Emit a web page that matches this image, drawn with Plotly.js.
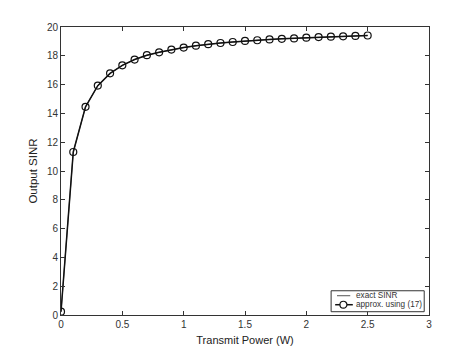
<!DOCTYPE html>
<html>
<head>
<meta charset="utf-8">
<script src="https://cdn.plot.ly/plotly-3.0.1.min.js"></script>
<style>html,body{margin:0;padding:0;background:#fff;}</style>
</head>
<body>
<div id="chart" style="width:474px;height:355px;"></div>
<script>
const power = [0, 0.1, 0.2, 0.3, 0.4, 0.5, 0.6, 0.7, 0.8, 0.9, 1.0, 1.1, 1.2, 1.3, 1.4, 1.5, 1.6, 1.7, 1.8, 1.9, 2.0, 2.1, 2.2, 2.3, 2.4, 2.5];
const exactSINR = [0.23, 11.32, 14.46, 15.93, 16.78, 17.34, 17.74, 18.04, 18.24, 18.43, 18.57, 18.70, 18.81, 18.89, 18.96, 19.03, 19.08, 19.14, 19.18, 19.21, 19.26, 19.30, 19.33, 19.35, 19.38, 19.41];
const approxSINR = [0.23, 11.32, 14.46, 15.93, 16.78, 17.34, 17.74, 18.04, 18.24, 18.43, 18.57, 18.70, 18.81, 18.89, 18.96, 19.03, 19.08, 19.14, 19.18, 19.21, 19.26, 19.30, 19.33, 19.35, 19.38, 19.41];
const seriesNames = ['exact SINR', 'approx. using (17)'];
const xTicks = [0, 0.5, 1, 1.5, 2, 2.5, 3];
const yTicks = [0, 2, 4, 6, 8, 10, 12, 14, 16, 18, 20];

const traces = [
  {x: power, y: exactSINR, type: 'scatter', mode: 'lines', name: seriesNames[0],
   line: {color: '#555', width: 1}},
  {x: power, y: approxSINR, type: 'scatter', mode: 'lines+markers', name: seriesNames[1],
   line: {color: '#111', width: 1.5},
   marker: {symbol: 'circle-open', size: 7, color: '#111', line: {width: 1.2, color: '#111'}}}
];

const FONT = 'Liberation Sans, Arial, sans-serif';
const axisCommon = {
  showgrid: false, zeroline: false, showline: true, linecolor: '#333', linewidth: 1,
  mirror: 'ticks', ticks: 'inside', ticklen: 4, tickcolor: '#333',
  tickfont: {family: FONT, size: 10, color: '#333'}
};

// Compact MATLAB-style legend box (paper coordinates)
const lg = {x0: 0.734, x1: 0.987, y0: 0.0114, y1: 0.0842, rows: [0.0669, 0.0357],
            sx0a: 0.750, sx1a: 0.786, sx0b: 0.745, sx1b: 0.793, tx: 0.797};
const sxc = 0.7675;
const shapes = [
  {type: 'rect', xref: 'paper', yref: 'paper', x0: lg.x0, x1: lg.x1, y0: lg.y0, y1: lg.y1,
   line: {color: '#333', width: 1}, fillcolor: '#fff', layer: 'above'},
  {type: 'line', xref: 'paper', yref: 'paper', x0: lg.sx0a, x1: lg.sx1a, y0: lg.rows[0], y1: lg.rows[0],
   line: {color: '#555', width: 1}, layer: 'above'},
  {type: 'line', xref: 'paper', yref: 'paper', x0: lg.sx0b, x1: lg.sx1b, y0: lg.rows[1], y1: lg.rows[1],
   line: {color: '#111', width: 1.5}, layer: 'above'},
  {type: 'circle', xref: 'paper', yref: 'paper', x0: sxc - 0.0095, x1: sxc + 0.0095,
   y0: lg.rows[1] - 0.0121, y1: lg.rows[1] + 0.0121,
   line: {color: '#111', width: 1.2}, fillcolor: '#fff', layer: 'above'}
];
const annotations = seriesNames.map((name, i) => ({
  xref: 'paper', yref: 'paper', x: lg.tx, y: lg.rows[i], xanchor: 'left', yanchor: 'middle',
  text: name, showarrow: false, font: {family: FONT, size: 8.2, color: '#333'}
}));

const layout = {
  width: 474, height: 355,
  margin: {l: 61, r: 45, t: 27, b: 40},
  paper_bgcolor: '#fff', plot_bgcolor: '#fff',
  showlegend: false,
  xaxis: Object.assign({}, axisCommon, {
    range: [0, 3], tickvals: xTicks, ticktext: xTicks.map(String),
    title: {text: 'Transmit Power (W)', standoff: 7,
      font: {family: FONT, size: 11, color: '#222'}}
  }),
  yaxis: Object.assign({}, axisCommon, {
    range: [0, 20], tickvals: yTicks, ticktext: yTicks.map(String),
    title: {text: 'Output SINR', standoff: 6,
      font: {family: FONT, size: 11.5, color: '#222'}}
  }),
  shapes: shapes,
  annotations: annotations
};

Plotly.newPlot('chart', traces, layout, {displayModeBar: false, staticPlot: true});
</script>
</body>
</html>
